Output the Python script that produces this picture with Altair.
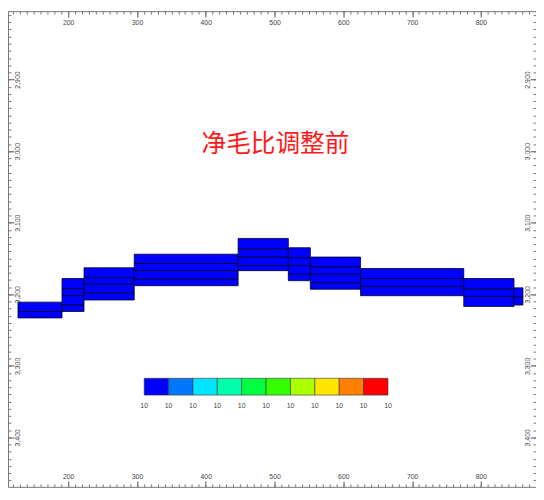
import altair as alt
import pandas as pd

# block boundaries along x (trace positions)
x_edges = [127, 191, 223, 296, 447, 520, 552, 625, 775, 848, 861]
# layer boundary depths for each block (top -> bottom)
layer_depths = [
    [3211, 3224, 3233],
    [3178, 3192, 3202, 3215, 3224],
    [3163, 3177, 3186, 3198, 3208],
    [3144, 3157, 3167, 3179, 3188],
    [3122, 3137, 3148, 3160, 3167],
    [3135, 3149, 3160, 3172, 3181],
    [3148, 3162, 3172, 3184, 3193],
    [3164, 3178, 3189, 3202],
    [3178, 3193, 3203, 3217],
    [3191, 3204, 3215],
]
# net-to-gross value per block (all in the lowest class)
ntg_values = [0.5, 0.5, 0.5, 0.5, 0.5, 0.5, 0.5, 0.5, 0.5, 0.5]

legend_colors = ["#0000ff", "#0077ff", "#00e5ff", "#00ffaa", "#00ff40",
                 "#33ff00", "#aaff00", "#ffe600", "#ff8000", "#ff0000"]
legend_labels = ["10", "10", "10", "10", "10", "10", "10", "10", "10", "10", "10"]

x_major = [200, 300, 400, 500, 600, 700, 800]
x_minor = list(range(120, 881, 10))
y_major = [2900, 3000, 3100, 3200, 3300, 3400]
y_minor = list(range(2810, 3470, 10))

title_text = "净毛比调整前"

rows = []
for i, depths in enumerate(layer_depths):
    for j in range(len(depths) - 1):
        rows.append({"x0": x_edges[i], "x1": x_edges[i + 1],
                     "d0": depths[j], "d1": depths[j + 1],
                     "ntg": ntg_values[i]})
df = pd.DataFrame(rows)

leg_df = pd.DataFrame({"i": list(range(len(legend_colors))),
                       "i1": list(range(1, len(legend_colors) + 1)),
                       "c": legend_colors})
leg_lab_df = pd.DataFrame({"k": list(range(len(legend_labels))), "t": legend_labels})

W, H = 535, 482
xs = alt.Scale(domain=[112.5, 880], nice=False, zero=False)
ys = alt.Scale(domain=[2804.5, 3469], nice=False, zero=False, reverse=True)

lab = dict(labelFontSize=7, labelColor="#444", grid=False, domain=False,
           tickColor="#555", title=None, format=",d", labelFlush=False)
nolab = dict(labels=False, grid=False, domain=False, tickColor="#777", title=None)


def xaxis(orient, values, major):
    d = lab if major else nolab
    extra = dict(tickSize=6, labelPadding=2 if orient == "bottom" else 1) if major else dict(tickSize=3)
    return alt.Axis(orient=orient, offset=-H, values=values, **d, **extra)


def yaxis(orient, values, major):
    d = lab if major else nolab
    if major:
        extra = dict(tickSize=6, labelPadding=0, labelAngle=270, labelAlign="center",
                     labelBaseline="top" if orient == "right" else "bottom")
    else:
        extra = dict(tickSize=3)
    return alt.Axis(orient=orient, offset=-W, values=values, **d, **extra)


color = alt.Color("ntg:Q",
                  scale=alt.Scale(type="quantize", domain=[0, 10], range=legend_colors),
                  legend=None)

base = alt.Chart(df)


def layer(xo, xv, yo, yv, major, visible=False):
    m = base.mark_rect(stroke="#000022", strokeWidth=0.8) if visible else base.mark_rect(opacity=0)
    enc = dict(x=alt.X("x0:Q", scale=xs, axis=xaxis(xo, xv, major)),
               x2="x1:Q",
               y=alt.Y("d0:Q", scale=ys, axis=yaxis(yo, yv, major)),
               y2="d1:Q")
    if visible:
        enc["color"] = color
    return m.encode(**enc)


rects = layer("bottom", x_major, "right", y_major, True, visible=True)
l2 = layer("top", x_major, "left", y_major, True)
l3 = layer("bottom", x_minor, "right", y_minor, False)
l4 = layer("top", x_minor, "left", y_minor, False)

main = alt.layer(rects, l2, l3, l4).resolve_axis(x="independent", y="independent")

leg_scale = alt.Scale(domain=[0, len(legend_colors)], range=[138, 385], nice=False, zero=False)
leg_rects = alt.Chart(leg_df).mark_rect(stroke="#333", strokeWidth=0.6).encode(
    x=alt.X("i:Q", scale=leg_scale, axis=None), x2="i1:Q",
    y=alt.value(372), y2=alt.value(389),
    color=alt.Color("c:N", scale=None))
leg_text = alt.Chart(leg_lab_df).mark_text(fontSize=7, color="#444").encode(
    x=alt.X("k:Q", scale=leg_scale, axis=None),
    y=alt.value(400), text="t:N")

title = alt.Chart(pd.DataFrame({"t": [title_text]})).mark_text(
    color="#ff1a1a", fontSize=25, font="Noto Sans CJK SC"
).encode(x=alt.value(271), y=alt.value(135), text="t:N")

chart = alt.layer(main, leg_rects, leg_text, title).resolve_scale(
    x="independent"
).properties(
    width=W, height=H, padding=0, autosize=alt.AutoSizeParams(type="none")
).configure_view(stroke="#777", strokeWidth=1)

chart.save("out.html", embed_options={"renderer": "svg", "actions": False})
